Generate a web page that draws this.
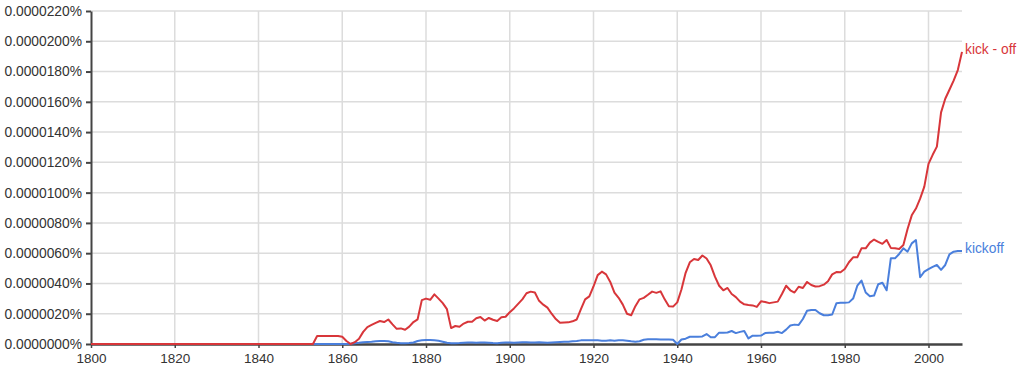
<!DOCTYPE html>
<html>
<head>
<meta charset="utf-8">
<script src="https://cdn.jsdelivr.net/npm/d3@7"></script>
<style>
  body { margin: 0; background: #fff; }
  #svg-container { width: 1024px; height: 372px; }
  text { font-family: "Liberation Sans", Arial, sans-serif; }
</style>
</head>
<body>
<div id="svg-container"></div>
<script>
// data (values in units of 0.000001%), one value per year from 1800
const firstYear = 1800;

const kickOffValues = [
  0, 0, 0, 0, 0, 0, 0, 0, 0, 0,
  0, 0, 0, 0, 0, 0, 0, 0, 0, 0,
  0, 0, 0, 0, 0, 0, 0, 0, 0, 0,
  0, 0, 0, 0, 0, 0, 0, 0, 0, 0,
  0, 0, 0, 0, 0, 0, 0, 0, 0, 0,
  0, 0, 0, 0, 0.53, 0.53, 0.53, 0.53, 0.53, 0.53,
  0.48, 0.2, 0, 0.12, 0.35, 0.8, 1.12, 1.26, 1.4, 1.52,
  1.45, 1.62, 1.3, 1.0, 1.03, 0.94, 1.15, 1.45, 1.63, 2.9,
  3.0, 2.92, 3.28, 3.0, 2.7, 2.3, 1.05, 1.19, 1.14, 1.35,
  1.47, 1.47, 1.7, 1.78, 1.55, 1.72, 1.6, 1.52, 1.76, 1.8,
  2.1, 2.35, 2.65, 2.95, 3.35, 3.46, 3.4, 2.85, 2.6, 2.4,
  2.0, 1.65, 1.41, 1.42, 1.43, 1.5, 1.62, 2.3, 2.95, 3.15,
  3.8, 4.55, 4.78, 4.6, 4.1, 3.4, 3.05, 2.6, 2.0, 1.9,
  2.5, 2.95, 3.05, 3.25, 3.46, 3.38, 3.48, 2.95, 2.5, 2.47,
  2.75, 3.6, 4.7, 5.4, 5.62, 5.55, 5.85, 5.65, 5.2, 4.45,
  3.85, 3.55, 3.7, 3.3, 3.1, 2.8, 2.62, 2.58, 2.55, 2.45,
  2.82, 2.78, 2.7, 2.75, 2.8, 3.3, 3.85, 3.55, 3.4, 3.78,
  3.7, 4.1, 3.9, 3.8, 3.82, 3.92, 4.15, 4.6, 4.75, 4.74,
  4.95, 5.4, 5.73, 5.73, 6.32, 6.32, 6.7, 6.9, 6.75, 6.62,
  6.87, 6.35, 6.32, 6.28, 6.54, 7.6, 8.5, 8.95, 9.6, 10.4,
  11.9, 12.5, 13.04, 15.3, 16.2, 16.8, 17.4, 18.1, 19.3,
];

const kickoffValues = [
  0, 0, 0, 0, 0, 0, 0, 0, 0, 0,
  0, 0, 0, 0, 0, 0, 0, 0, 0, 0,
  0, 0, 0, 0, 0, 0, 0, 0, 0, 0,
  0, 0, 0, 0, 0, 0, 0, 0, 0, 0,
  0, 0, 0, 0, 0, 0, 0, 0, 0, 0,
  0, 0, 0, 0, 0, 0, 0, 0, 0, 0,
  0, 0, 0.02, 0.05, 0.08, 0.12, 0.14, 0.15, 0.18, 0.2,
  0.2, 0.18, 0.12, 0.08, 0.05, 0.05, 0.06, 0.1, 0.2, 0.25,
  0.27, 0.26, 0.25, 0.22, 0.15, 0.08, 0.05, 0.05, 0.06, 0.08,
  0.1, 0.1, 0.08, 0.1, 0.1, 0.08, 0.06, 0.05, 0.08, 0.1,
  0.1, 0.08, 0.1, 0.12, 0.12, 0.1, 0.1, 0.12, 0.1, 0.08,
  0.1, 0.12, 0.14, 0.15, 0.15, 0.18, 0.2, 0.24, 0.25, 0.24,
  0.25, 0.24, 0.22, 0.22, 0.24, 0.22, 0.24, 0.25, 0.22, 0.18,
  0.15, 0.18, 0.28, 0.31, 0.32, 0.32, 0.3, 0.3, 0.3, 0.28,
  0, 0.3, 0.35, 0.48, 0.48, 0.48, 0.5, 0.66, 0.44, 0.45,
  0.75, 0.75, 0.76, 0.86, 0.72, 0.8, 0.86, 0.37, 0.55, 0.55,
  0.56, 0.72, 0.75, 0.75, 0.81, 0.72, 0.95, 1.22, 1.28, 1.26,
  1.65, 2.2, 2.25, 2.25, 2.03, 1.9, 1.9, 1.95, 2.69, 2.72,
  2.72, 2.75, 3.0, 3.85, 4.19, 3.4, 3.15, 3.2, 3.95, 4.05,
  3.55, 5.66, 5.66, 5.95, 6.32, 6.1, 6.65, 6.87, 4.41, 4.78,
  4.95, 5.1, 5.22, 4.9, 5.22, 5.92, 6.1, 6.14, 6.14,
];

const xTicks = [1800, 1820, 1840, 1860, 1880, 1900, 1920, 1940, 1960, 1980, 2000];
const yTicks = [0, 2, 4, 6, 8, 10, 12, 14, 16, 18, 20, 22];

const series = [
  { name: "kickoff", values: kickoffValues, color: "#4a7fdc" },
  { name: "kick - off", values: kickOffValues, color: "#d8363a" },
];

// svg 설정
const width = 1024;
const height = 372;
const margin = { top: 11, right: 62, bottom: 28, left: 91 };

const svg = d3
  .select("#svg-container")
  .append("svg")
  .attr("width", width)
  .attr("height", height);

const xScale = d3
  .scaleLinear()
  .domain([firstYear, firstYear + kickOffValues.length - 1])
  .range([margin.left, width - margin.right]);

const yScale = d3
  .scaleLinear()
  .domain([0, 22])
  .range([height - margin.bottom, margin.top]);

// grid
svg
  .append("g")
  .attr("class", "grid-y")
  .selectAll("line")
  .data(yTicks.filter((d) => d > 0))
  .enter()
  .append("line")
  .attr("x1", margin.left)
  .attr("x2", width - margin.right)
  .attr("y1", (d) => yScale(d))
  .attr("y2", (d) => yScale(d))
  .attr("stroke", "#dcdcdc")
  .attr("stroke-width", 1.5);

svg
  .append("g")
  .attr("class", "grid-x")
  .selectAll("line")
  .data(xTicks.filter((d) => d > firstYear))
  .enter()
  .append("line")
  .attr("x1", (d) => xScale(d))
  .attr("x2", (d) => xScale(d))
  .attr("y1", margin.top)
  .attr("y2", height - margin.bottom)
  .attr("stroke", "#dcdcdc")
  .attr("stroke-width", 1.5);

// axes
const xAxis = d3
  .axisBottom(xScale)
  .tickValues(xTicks)
  .tickFormat((d) => d)
  .tickSize(4)
  .tickPadding(5)
  .tickSizeOuter(0);

const yAxis = d3
  .axisLeft(yScale)
  .tickValues(yTicks)
  .tickFormat((d) => (d * 1e-6).toFixed(7) + "%")
  .tickSize(5)
  .tickPadding(4)
  .tickSizeOuter(0);

svg
  .append("g")
  .attr("class", "x-axis")
  .attr("transform", `translate(0, ${height - margin.bottom})`)
  .call(xAxis)
  .call((g) => g.select(".domain").attr("stroke", "#444").attr("stroke-width", 2.5))
  .call((g) => g.selectAll(".tick line").attr("stroke", "#444").attr("stroke-width", 1.5))
  .call((g) =>
    g
      .selectAll(".tick text")
      .attr("fill", "#333")
      .style("font-size", "13.5px")
  );

svg
  .append("g")
  .attr("class", "y-axis")
  .attr("transform", `translate(${margin.left}, 0)`)
  .call(yAxis)
  .call((g) => g.select(".domain").attr("stroke", "#444").attr("stroke-width", 2))
  .call((g) => g.selectAll(".tick line").attr("stroke", "#444").attr("stroke-width", 2))
  .call((g) =>
    g
      .selectAll(".tick text")
      .attr("fill", "#333")
      .style("font-size", "13.8px")
  );

// lines
const line = d3
  .line()
  .x((d, i) => xScale(firstYear + i))
  .y((d) => yScale(d));

series.forEach((s) => {
  svg
    .append("path")
    .datum(s.values)
    .attr("fill", "none")
    .attr("stroke", s.color)
    .attr("stroke-width", 2)
    .attr("stroke-linejoin", "round")
    .attr("d", line);

  const last = s.values.length - 1;
  svg
    .append("text")
    .attr("x", xScale(firstYear + last) + 3)
    .attr("y", yScale(s.values[last]) + 2)
    .attr("text-anchor", "start")
    .attr("fill", s.color)
    .style("font-size", "13.8px")
    .text(s.name);
});
</script>
</body>
</html>
